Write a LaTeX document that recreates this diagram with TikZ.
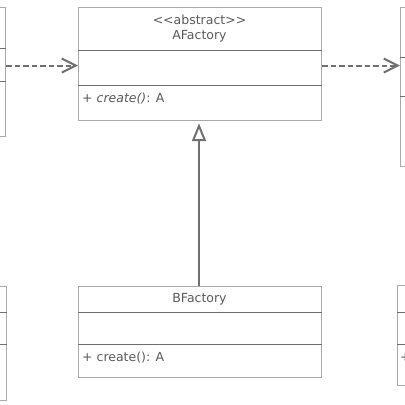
\documentclass[tikz,border=0pt]{standalone}
\usepackage{fontspec}
\setmainfont{DejaVu Sans}
\usetikzlibrary{arrows.meta}
\definecolor{boxc}{HTML}{AAAAAA}
\definecolor{sepc}{HTML}{6E6E6E}
\definecolor{arrc}{HTML}{707070}
\definecolor{txtc}{HTML}{5A5A5A}
\tikzset{
  umlbox/.style={draw=boxc, line width=1.2pt, anchor=north west, inner sep=0pt},
  sepline/.style={draw=sepc, line width=1pt},
  lbl/.style={text=txtc, font=\fontsize{12.5}{15}\selectfont, inner sep=0pt},
  dep/.style={draw=arrc, line width=2pt, dash pattern=on 5.5pt off 3pt, -{Straight Barb[length=14pt,width=14pt,line width=2pt]}},
  inh/.style={draw=arrc, line width=2pt, -{Triangle[open,length=18pt,width=14pt,line width=2pt]}}
}
\begin{document}
\begin{tikzpicture}[x=1pt,y=-1pt]
\useasboundingbox (0,0) rectangle (405,405);
\clip (0,0) rectangle (405,405);
% left top partial box
\node[umlbox, minimum width=30pt, minimum height=129pt] (lt) at (-25,7) {};
\draw[sepline] (-25,48) -- (lt.east |- 0,48);
\draw[sepline] (-25,81) -- (lt.east |- 0,81);
% right top partial box
\node[umlbox, minimum width=30pt, minimum height=159pt] (rt) at (400,7) {};
\draw[sepline] (rt.west |- 0,57) -- (430,57);
\draw[sepline] (rt.west |- 0,96) -- (430,96);
% bottom left partial box
\node[umlbox, minimum width=31pt, minimum height=114pt] (lb) at (-25,286) {};
\draw[sepline] (-25,312) -- (lb.east |- 0,312);
\draw[sepline] (-25,344) -- (lb.east |- 0,344);
% bottom right partial box
\node[umlbox, minimum width=33pt, minimum height=100pt] (rb) at (397,285) {};
\draw[sepline] (rb.west |- 0,312) -- (430,312);
\draw[sepline] (rb.west |- 0,344) -- (430,344);
\node[lbl, anchor=west] (rbop) at (400,358) {+};
% AFactory
\node[umlbox, minimum width=243pt, minimum height=113pt] (afac) at (78,7) {};
\draw[sepline] (afac.west |- 0,50) -- (afac.east |- 0,50);
\draw[sepline] (afac.west |- 0,85) -- (afac.east |- 0,85);
\node[lbl, align=center] (aname) at (199.5,28.5) {{<}{<}abstract{>}{>}\\AFactory};
\node[lbl, anchor=west] (aop) at (82,99) {+ \textit{create()}: A};
% BFactory
\node[umlbox, minimum width=243.5pt, minimum height=91pt] (bfac) at (77.5,286) {};
\draw[sepline] (bfac.west |- 0,312) -- (bfac.east |- 0,312);
\draw[sepline] (bfac.west |- 0,344) -- (bfac.east |- 0,344);
\node[lbl] (bname) at (199.5,299) {BFactory};
\node[lbl, anchor=west] (bop) at (82,358) {+ create(): A};
% connectors
\coordinate (ain) at ([yshift=-1.5pt]afac.west);
\coordinate (aout) at ([yshift=-1.5pt]afac.east);
\draw[dep] (lt.east |- ain) -- (ain);
\draw[dep] (aout) -- (rt.west |- aout);
\draw[inh] (bfac.north -| 199,0) -- ([yshift=-2pt]afac.south -| 199,0);
\end{tikzpicture}
\end{document}
